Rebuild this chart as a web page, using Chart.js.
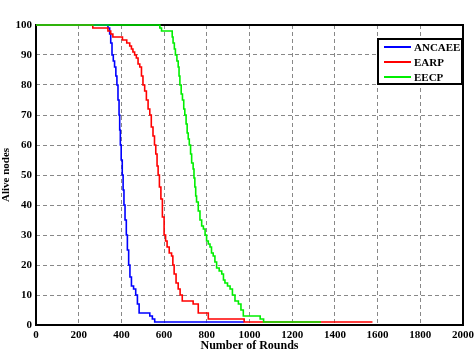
<!DOCTYPE html>
<html>
<head>
<meta charset="utf-8">
<script src="https://cdn.jsdelivr.net/npm/chart.js@4"></script>
<style>
  html, body { margin: 0; padding: 0; background: #fff; }
  #wrap { width: 474px; height: 353px; position: relative; }
</style>
</head>
<body>
<div id="wrap"><canvas id="chart"></canvas></div>
<script>
// Series data (rounds where alive count changes)
const ancaeeRounds = [0, 337, 345, 350, 356, 362, 368, 374, 379, 384, 389, 392, 395, 399, 404, 408, 412, 417, 423, 428, 434, 440, 447, 457, 467, 475, 483, 533, 545, 556, 975];
const ancaeeAlive  = [100, 99, 97, 94, 90, 88, 86, 83, 80, 75, 70, 65, 60, 55, 50, 45, 40, 35, 30, 25, 20, 16, 13, 12, 10, 7, 4, 3, 2, 1, 1];

const earpRounds = [0, 266, 337, 350, 360, 405, 425, 439, 447, 454, 462, 470, 478, 486, 494, 501, 509, 517, 525, 533, 540, 548, 555, 561, 567, 572, 578, 585, 592, 600, 607, 614, 624, 635, 641, 647, 656, 666, 675, 685, 736, 760, 807, 975, 1576];
const earpAlive  = [100, 99, 98, 97, 96, 95, 94, 93, 92, 91, 90, 89, 87, 86, 83, 80, 78, 75, 72, 70, 66, 63, 60, 57, 53, 50, 46, 42, 36, 30, 28, 26, 24, 23, 20, 17, 14, 12, 10, 8, 7, 4, 2, 1, 1];

const eecpRounds = [0, 580, 588, 638, 642, 648, 653, 660, 666, 670, 674, 680, 686, 692, 697, 703, 708, 713, 718, 724, 729, 736, 740, 744, 748, 752, 760, 768, 776, 784, 792, 799, 807, 815, 822, 830, 838, 846, 858, 870, 878, 885, 897, 909, 920, 932, 948, 960, 971, 1050, 1066, 1335];
const eecpAlive  = [100, 99, 98, 96, 94, 92, 90, 88, 86, 83, 80, 77, 75, 72, 70, 67, 64, 62, 60, 57, 54, 52, 49, 46, 43, 41, 38, 35, 33, 32, 30, 28, 27, 26, 24, 23, 21, 19, 18, 17, 15, 14, 13, 12, 10, 8, 7, 5, 3, 2, 1, 1];

const seriesLabels = ['ANCAEE', 'EARP', 'EECP'];
const seriesColors = ['#0000ff', '#ff0000', '#00ee00'];

const toPoints = (xs, ys) => xs.map((x, i) => ({ x, y: ys[i] }));

const FONT = '"Liberation Serif", "Times New Roman", serif';

// Black frame under the lines, boxed legend on top of everything
const framePlugin = {
  id: 'frame',
  beforeDatasetsDraw(chart) {
    const { ctx, chartArea: a } = chart;
    ctx.save();
    ctx.strokeStyle = '#000';
    ctx.lineWidth = 2;
    ctx.strokeRect(a.left, a.top, a.right - a.left, a.bottom - a.top);
    ctx.restore();
  },
  afterDraw(chart) {
    const { ctx, chartArea: a } = chart;
    ctx.save();
    ctx.strokeStyle = '#000';
    ctx.lineWidth = 2;
    const bx = a.right - 85, by = a.top + 14, bw = 84, bh = 45;
    ctx.fillStyle = '#fff';
    ctx.fillRect(bx, by, bw, bh);
    ctx.strokeRect(bx, by, bw, bh);
    ctx.font = 'bold 11px ' + FONT;
    ctx.textBaseline = 'middle';
    chart.data.datasets.forEach((ds, i) => {
      const y = by + 8 + i * 15;
      ctx.strokeStyle = ds.borderColor;
      ctx.lineWidth = 2;
      ctx.beginPath();
      ctx.moveTo(bx + 6, y);
      ctx.lineTo(bx + 33, y);
      ctx.stroke();
      ctx.fillStyle = '#000';
      ctx.fillText(ds.label, bx + 36, y + 1);
    });
    ctx.restore();
  }
};

new Chart(document.getElementById('chart'), {
  type: 'line',
  data: {
    datasets: [
      { label: seriesLabels[0], data: toPoints(ancaeeRounds, ancaeeAlive), borderColor: seriesColors[0], order: 2 },
      { label: seriesLabels[1], data: toPoints(earpRounds, earpAlive), borderColor: seriesColors[1], order: 1 },
      { label: seriesLabels[2], data: toPoints(eecpRounds, eecpAlive), borderColor: seriesColors[2], order: 0 }
    ].map(d => ({ ...d, borderWidth: 1.6, pointRadius: 0, stepped: true, fill: false, clip: 4 }))
  },
  options: {
    responsive: true,
    maintainAspectRatio: false,
    animation: false,
    layout: { padding: { top: 25, right: 11, left: 0, bottom: 0 } },
    plugins: {
      legend: { display: false },
      tooltip: { enabled: false }
    },
    scales: {
      x: {
        type: 'linear',
        min: 0,
        max: 2000,
        ticks: { stepSize: 200, color: '#000', padding: 4, maxRotation: 0, callback: v => String(v), font: { family: FONT, size: 11, weight: 'bold' } },
        grid: { color: '#888', lineWidth: 1, drawTicks: false },
        border: { display: false, dash: [4, 3] },
        title: { display: true, text: 'Number of Rounds', color: '#000', padding: 0, font: { family: FONT, size: 12, weight: 'bold' } },
        afterFit: s => { s.height = 28; s.paddingRight = 0; s.paddingLeft = 0; }
      },
      y: {
        min: 0,
        max: 100,
        ticks: { stepSize: 10, color: '#000', padding: 4, font: { family: FONT, size: 11, weight: 'bold' } },
        grid: { color: '#888', lineWidth: 1, drawTicks: false },
        border: { display: false, dash: [4, 3] },
        title: { display: true, text: 'Alive nodes', color: '#000', padding: 0, font: { family: FONT, size: 11, weight: 'bold' } },
        afterFit: s => { s.width = 36; s.paddingTop = 0; s.paddingBottom = 0; }
      }
    }
  },
  plugins: [framePlugin]
});
</script>
</body>
</html>
